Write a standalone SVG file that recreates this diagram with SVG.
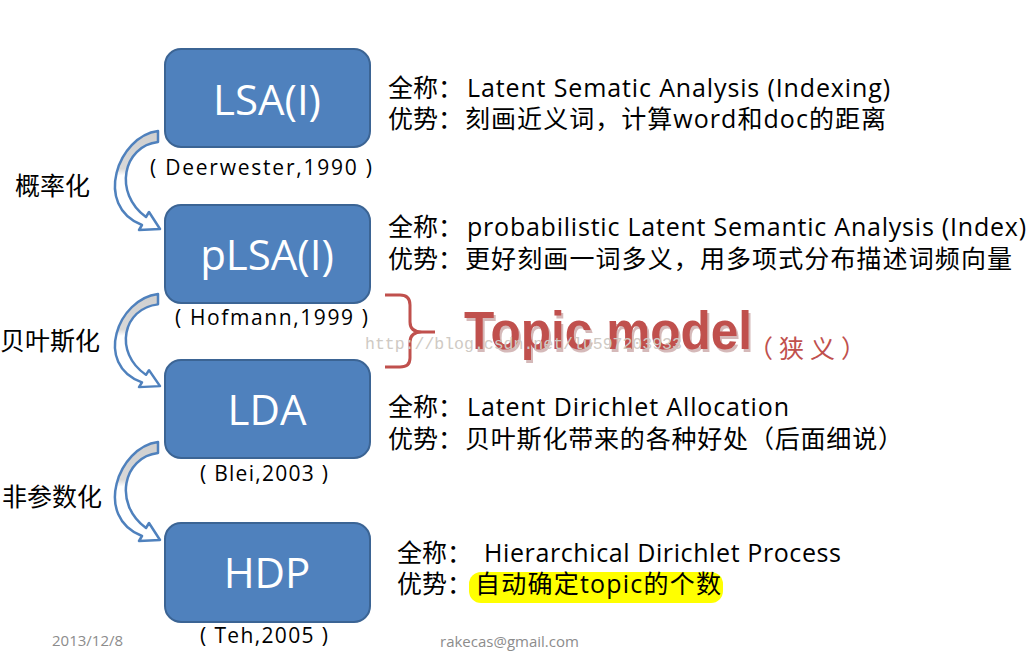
<svg xmlns="http://www.w3.org/2000/svg" xmlns:xlink="http://www.w3.org/1999/xlink" width="1028" height="665" viewBox="0 0 1028 665">
<defs>
<style>
.box{fill:#4f81bd;stroke:#3b6494;stroke-width:2}
.bt{font-family:"Open Sans","Liberation Sans",sans-serif;font-size:42px;fill:#fff;text-anchor:middle}
.cite{font-family:"Open Sans","Liberation Sans","Noto Sans CJK SC",sans-serif;font-size:21px;fill:#000}
.desc{font-family:"Open Sans","Noto Sans CJK SC",sans-serif;font-size:25px;fill:#000}
.side{font-family:"Noto Sans CJK SC",sans-serif;font-size:25px;fill:#000}
.foot{font-family:"Open Sans","Liberation Sans",sans-serif;font-size:15px;fill:#8c8c8c}
.arr{fill:url(#ag);stroke:#4f81bd;stroke-width:2.5;stroke-linejoin:round}
</style>
<linearGradient id="ag" x1="0" y1="0" x2="0" y2="1">
<stop offset="0" stop-color="#cfcfcf"/>
<stop offset="0.38" stop-color="#d8d8d8"/>
<stop offset="0.45" stop-color="#ffffff"/>
<stop offset="1" stop-color="#ffffff"/>
</linearGradient>
<path id="curl" d="M0 0 C-40 5,-65 75,-16 94 L-19 99 L2 98 L-9 81 L-12 86 C-45 62,-35 15,0 11 Z"/>
</defs>
<rect width="1028" height="665" fill="#fff"/>

<g id="connectors">
<use xlink:href="#curl" class="arr" transform="translate(158,131)"/>
<use xlink:href="#curl" class="arr" transform="translate(158,294) scale(1,0.94)"/>
<use xlink:href="#curl" class="arr" transform="translate(158,442)"/>
</g>

<g id="side-labels">
<text class="side" x="15" y="195">概率化</text>
<text class="side" x="0" y="350">贝叶斯化</text>
<text class="side" x="2" y="506">非参数化</text>
</g>

<g id="node-lsa">
<rect class="box" x="165" y="49" width="205" height="98" rx="16"/>
<text class="bt" x="267" y="115">LSA(I)</text>
<text class="cite" x="150" y="175" textLength="222">(  Deerwester,1990 )</text>
<text class="desc" x="388" y="97">全称：</text>
<text class="desc" x="467" y="97" textLength="423">Latent Sematic Analysis (Indexing)</text>
<text class="desc" x="388" y="128">优势：</text>
<text class="desc" x="465" y="128" textLength="421">刻画近义词，计算word和doc的距离</text>
</g>

<g id="node-plsa">
<rect class="box" x="165" y="205" width="205" height="98" rx="16"/>
<text class="bt" x="267" y="270">pLSA(I)</text>
<text class="cite" x="175" y="325" textLength="193">( Hofmann,1999 )</text>
<text class="desc" x="388" y="236">全称：</text>
<text class="desc" x="467" y="236" textLength="559">probabilistic Latent Semantic Analysis (Index)</text>
<text class="desc" x="388" y="268">优势：</text>
<text class="desc" x="465" y="268" textLength="547">更好刻画一词多义，用多项式分布描述词频向量</text>
</g>

<g id="node-lda">
<rect class="box" x="165" y="360" width="205" height="98" rx="16"/>
<text class="bt" x="267" y="425">LDA</text>
<text class="cite" x="200" y="481" textLength="128">( Blei,2003 )</text>
<text class="desc" x="388" y="416">全称：</text>
<text class="desc" x="467" y="416" textLength="322">Latent Dirichlet Allocation</text>
<text class="desc" x="388" y="448">优势：</text>
<text class="desc" x="465" y="448" textLength="438">贝叶斯化带来的各种好处（后面细说）</text>
</g>

<g id="node-hdp">
<rect class="box" x="165" y="523" width="205" height="99" rx="16"/>
<text class="bt" x="267" y="588">HDP</text>
<text class="cite" x="200" y="643" textLength="128">( Teh,2005 )</text>
<text class="desc" x="397" y="562">全称：</text>
<text class="desc" x="484" y="562" textLength="357">Hierarchical Dirichlet Process</text>
<rect x="469" y="572" width="254" height="31" rx="12" fill="#ffff00"/>
<text class="desc" x="397" y="593">优势：</text>
<text class="desc" x="475" y="593" textLength="246">自动确定topic的个数</text>
</g>

<g id="topic-model">
<path d="M385 295 L400 295 Q410 295 410 305 L410 322 Q410 332 422 332 L435 332 M422 332 Q410 332 410 342 L410 358 Q410 367 400 367 L385 367" fill="none" stroke="#c0504d" stroke-width="3"/>
<text x="464" y="349" font-family="Liberation Sans,sans-serif" font-weight="bold" font-size="54" fill="#8a3a38" opacity="0.35" textLength="288" lengthAdjust="spacingAndGlyphs" transform="translate(2,3)">Topic model</text>
<text x="464" y="349" font-family="Liberation Sans,sans-serif" font-weight="bold" font-size="54" fill="#c0504d" textLength="288" lengthAdjust="spacingAndGlyphs">Topic model</text>
<text x="748" y="358" font-family="Noto Sans CJK SC,sans-serif" font-size="25" fill="#c0504d" textLength="118">（狭义）</text>
<text x="365" y="349" font-family="Liberation Mono,monospace" font-size="16.5" fill="#cfcac4">http://blog.csdn.net/lu597203933</text>
</g>

<g id="footer">
<text class="foot" x="52" y="646">2013/12/8</text>
<text class="foot" x="440" y="647">rakecas@gmail.com</text>
</g>
</svg>
